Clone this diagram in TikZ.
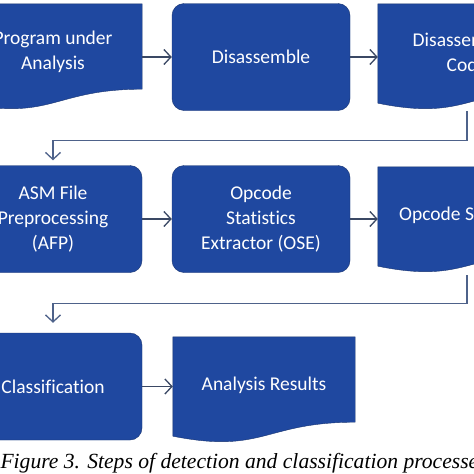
\documentclass[tikz,border=0pt]{standalone}
\usepackage{xcolor,tikz,fontspec}
\usetikzlibrary{arrows.meta,calc,backgrounds}
\newfontfamily\boxfont{Carlito}[Ligatures=CommonOff]
\newfontfamily\capfont{Liberation Serif}
\definecolor{boxblue}{RGB}{31,72,160}
\definecolor{edge}{RGB}{24,52,112}
\definecolor{wire}{RGB}{58,72,100}
\definecolor{wirelight}{RGB}{78,98,138}
\tikzset{
  arr/.style={-{Straight Barb[length=7pt,width=15pt,line width=1.3pt]},line width=1.3pt,draw=wire},
  elbow/.style={arr,draw=wirelight,line width=1.2pt},
  proc/.style={draw=edge,fill=boxblue,rounded corners=12pt,minimum width=178pt,minimum height=107pt,text=white,align=center,font=\boxfont\fontsize{19.5}{25}\selectfont},
  docu/.style={minimum width=178pt,minimum height=96pt,text=white,align=center,font=\boxfont\fontsize{19.5}{25}\selectfont},
  wave/.style={draw=edge,fill=boxblue}
}
\newcommand\docpath[1]{\path[wave] (#1.north west) -- (#1.north east) -- ([yshift=11pt]#1.south east) .. controls ([yshift=11pt]#1.south) and ([yshift=-21pt]#1.south) .. ([yshift=-3pt]#1.south west) -- cycle;}

\begin{document}
\begin{tikzpicture}[x=1pt,y=1pt]
  \useasboundingbox (0,0) rectangle (474,-474);
  \clip (0,0) rectangle (474,-474);

  \node[docu] (prog) at (53,-52) {Program under\\Analysis};
  \node[proc] (dis) at (261,-57) {Disassemble};
  \node[docu] (dcode) at (467,-52) {Disassembled\\Code};

  \node[proc] (asm) at (53,-219) {ASM File\\Preprocessing\\(AFP)};
  \node[proc] (ose) at (261,-219) {Opcode\\Statistics\\Extractor (OSE)};
  \node[docu] (ostat) at (467,-215) {Opcode Statistics};

  \node[proc] (cls) at (53,-386.5) {Classification};
  \node[docu,minimum width=182pt] (res) at (264,-385) {Analysis Results};

  \begin{scope}[on background layer]
    \fill[white] (0,0) rectangle (474,-474);
    \foreach \d in {prog,dcode,ostat,res}{\docpath{\d}}
  \end{scope}

  \draw[arr] (prog.east |- dis.west) -- (dis.west);
  \draw[arr] (dis.east) -- (dis.east -| dcode.west);
  \draw[arr] (asm.east) -- (ose.west);
  \draw[arr] (ose.east) -- (ose.east -| ostat.west);
  \draw[arr] (cls.east) -- (cls.east -| res.west);

  \draw[elbow,shorten >=5pt] ([yshift=-11pt]dcode.south) -- ([yshift=-40pt]dcode.south) -| (asm.north);
  \draw[elbow,shorten >=10pt] ([yshift=-12pt]ostat.south) -- ([yshift=-40pt]ostat.south) -| (cls.north);

  \node[anchor=base west,font=\capfont\itshape\fontsize{21.6}{24}\selectfont] (cap) at (-3,-468) {Figure 3. Steps of detection and classification processes};
\end{tikzpicture}
\end{document}
